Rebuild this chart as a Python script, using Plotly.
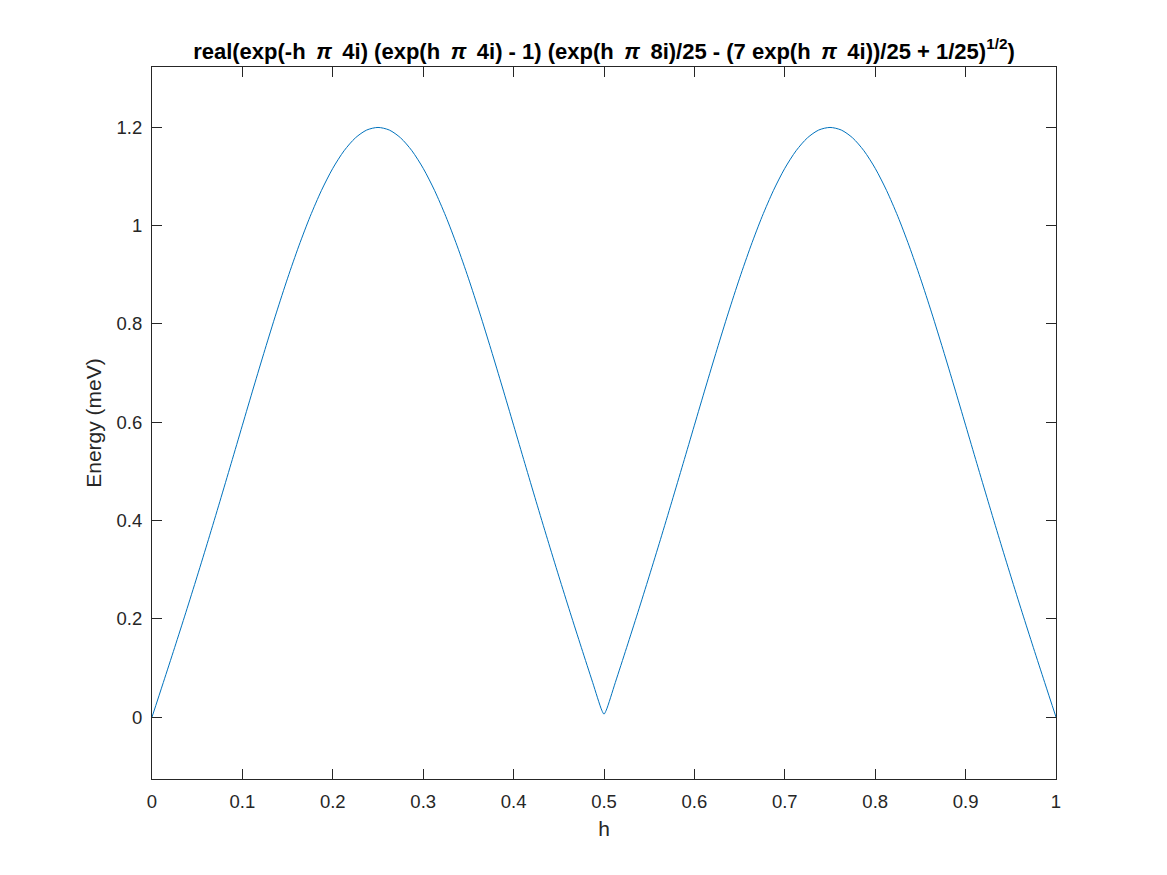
import plotly.graph_objects as go

h = [0.0, 0.0125, 0.025, 0.0375, 0.05, 0.0625, 0.075, 0.0875, 0.1, 0.1125,
     0.125, 0.1375, 0.15, 0.1625, 0.175, 0.1875, 0.2, 0.2125, 0.225, 0.2375,
     0.25, 0.2625, 0.275, 0.2875, 0.3, 0.3125, 0.325, 0.3375, 0.35, 0.3625,
     0.375, 0.3875, 0.4, 0.4125, 0.425, 0.4375, 0.45, 0.4625, 0.475, 0.4875,
     0.4975, 0.5, 0.5025,
     0.5125, 0.525, 0.5375, 0.55, 0.5625, 0.575, 0.5875, 0.6, 0.6125,
     0.625, 0.6375, 0.65, 0.6625, 0.675, 0.6875, 0.7, 0.7125, 0.725, 0.7375,
     0.75, 0.7625, 0.775, 0.7875, 0.8, 0.8125, 0.825, 0.8375, 0.85, 0.8625,
     0.875, 0.8875, 0.9, 0.9125, 0.925, 0.9375, 0.95, 0.9625, 0.975, 0.9875,
     1.0]

energy = [0.0, 0.0703, 0.1413, 0.2133, 0.2868, 0.3618, 0.4383, 0.5159, 0.5940, 0.6718,
          0.7483, 0.8225, 0.8932, 0.9591, 1.0191, 1.0720, 1.1168, 1.1526, 1.1788, 1.1947,
          1.2000, 1.1947, 1.1788, 1.1526, 1.1168, 1.0720, 1.0191, 0.9591, 0.8932, 0.8225,
          0.7483, 0.6718, 0.5940, 0.5159, 0.4383, 0.3618, 0.2868, 0.2133, 0.1413, 0.0703,
          0.0141, 0.006, 0.0141,
          0.0703, 0.1413, 0.2133, 0.2868, 0.3618, 0.4383, 0.5159, 0.5940, 0.6718,
          0.7483, 0.8225, 0.8932, 0.9591, 1.0191, 1.0720, 1.1168, 1.1526, 1.1788, 1.1947,
          1.2000, 1.1947, 1.1788, 1.1526, 1.1168, 1.0720, 1.0191, 0.9591, 0.8932, 0.8225,
          0.7483, 0.6718, 0.5940, 0.5159, 0.4383, 0.3618, 0.2868, 0.2133, 0.1413, 0.0703,
          0.0]

x_ticks = [0, 0.1, 0.2, 0.3, 0.4, 0.5, 0.6, 0.7, 0.8, 0.9, 1]
x_tick_labels = ["0", "0.1", "0.2", "0.3", "0.4", "0.5", "0.6", "0.7", "0.8", "0.9", "1"]
y_ticks = [0, 0.2, 0.4, 0.6, 0.8, 1.0, 1.2]
y_tick_labels = ["0", "0.2", "0.4", "0.6", "0.8", "1", "1.2"]

PI = "\u2009<i>π</i>\u2009"
title_text = ("<b>real(exp(-h " + PI + " 4i) (exp(h " + PI + " 4i) - 1) (exp(h " + PI + " 8i)/25"
              " - (7 exp(h " + PI + " 4i))/25 + 1/25)<sup>1/2</sup>)</b>")

axis_color = "#262626"
font_family = "Liberation Sans, Arial, Helvetica, sans-serif"

fig = go.Figure()
fig.add_trace(go.Scatter(x=h, y=energy, mode="lines",
                         line=dict(color="#0072BD", width=1, shape="spline", smoothing=0.8),
                         showlegend=False))

common = dict(showline=True, linecolor=axis_color, linewidth=1, mirror="ticks",
              ticks="inside", ticklen=10, tickwidth=1, tickcolor=axis_color,
              showgrid=False, zeroline=False,
              tickfont=dict(size=18.5, color=axis_color, family=font_family))

fig.update_xaxes(range=[0, 1], tickvals=x_ticks, ticktext=x_tick_labels,
                 ticklabelstandoff=6,
                 title=dict(text="h", font=dict(size=21, color=axis_color, family=font_family),
                            standoff=10),
                 **common)
fig.update_yaxes(range=[-0.126, 1.323], tickvals=y_ticks, ticktext=y_tick_labels,
                 ticklabelstandoff=5,
                 title=dict(text="Energy (meV)", font=dict(size=21, color=axis_color, family=font_family),
                            standoff=9),
                 **common)

W, H = 1151, 859
fig.update_layout(
    width=W, height=H,
    margin=dict(l=144, r=W - 1048, t=59, b=H - 771),
    paper_bgcolor="white", plot_bgcolor="white",
    title=dict(text=title_text, x=0.5, xanchor="center", xref="paper",
               yref="container", y=1 - 43 / H, yanchor="middle",
               font=dict(size=22, color="black", family=font_family)),
    font=dict(family=font_family, color=axis_color),
)

fig.write_html("out.html")
